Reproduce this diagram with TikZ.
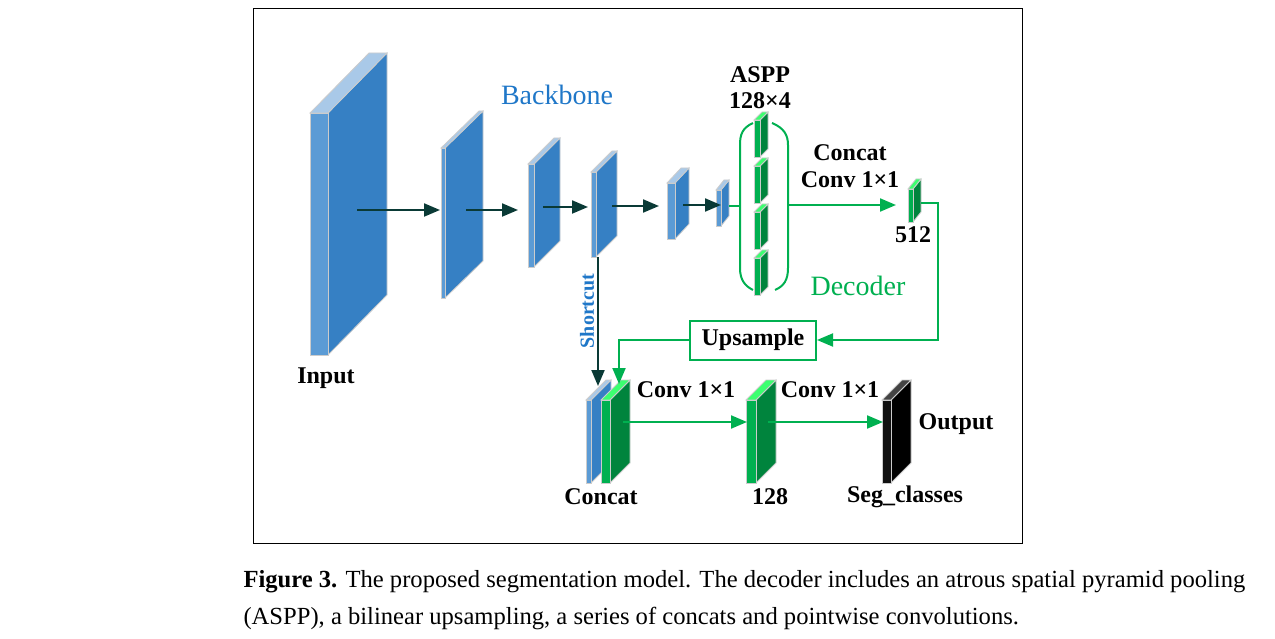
\documentclass[tikz,border=0pt]{standalone}
\usepackage{fontspec}
\setmainfont{Liberation Serif}
\usetikzlibrary{arrows.meta}
\definecolor{bfront}{HTML}{5B9BD5}\definecolor{bface}{HTML}{3680C4}\definecolor{btop}{HTML}{A9C9E8}
\definecolor{gfront}{HTML}{00B050}\definecolor{gface}{HTML}{00843D}\definecolor{gtop}{HTML}{3CFF70}
\definecolor{kfront}{HTML}{111111}\definecolor{kface}{HTML}{000000}\definecolor{ktop}{HTML}{444444}
\definecolor{dk}{HTML}{0A3A36}\definecolor{gl}{HTML}{00B050}\definecolor{bl}{HTML}{1F77C8}
\newcommand\slab[7]{% x ytop t h dx dy colorprefix
 \fill[#7face,draw=gray!40,line width=0.8pt] ({#1+#3},#2)--({#1+#3+#5},{#2-#6})--({#1+#3+#5},{#2-#6+#4})--({#1+#3},{#2+#4})--cycle;
 \fill[#7top,draw=gray!40,line width=0.8pt] (#1,#2)--({#1+#3},#2)--({#1+#3+#5},{#2-#6})--({#1+#5},{#2-#6})--cycle;
 \fill[#7front,draw=gray!40,line width=0.8pt] (#1,#2) rectangle ({#1+#3},{#2+#4});}
\begin{document}
\begin{tikzpicture}[x=1pt,y=-1pt,
 lab/.style={font=\fontsize{24}{26}\selectfont\bfseries},
 da/.style={draw=dk,line width=2pt,-{Triangle[length=16pt,width=13pt]}},
 ga/.style={draw=gl,line width=2pt,-{Triangle[length=16pt,width=13pt]}},
 gline/.style={draw=gl,line width=2pt}]
\useasboundingbox (0,0) rectangle (1275,639);
\draw[line width=0.8pt] (253,8) rectangle (1022,543);
\slab{310}{113}{18}{242}{59}{60}{b}
\slab{441}{148}{4}{150}{38}{37}{b}
\slab{528}{164}{6}{103}{26}{26}{b}
\slab{591}{172}{5}{85}{21}{21}{b}
\slab{667}{183}{8}{56}{14}{15}{b}
\slab{716}{190}{5}{36}{8}{10}{b}
\foreach \yy in {120,166,212,258}{\slab{754}{\yy}{6}{37}{8}{8}{g}}
\slab{908}{189}{5}{33}{8}{10}{g}
\slab{586}{400}{5}{83}{20}{20}{b}
\slab{601}{400}{9}{83}{20}{20}{g}
\slab{746}{400}{10}{83}{20}{20}{g}
\slab{882}{400}{9}{83}{20}{20}{k}
% bracket
\draw[gl,line width=2pt] (753,123) .. controls (742,128) and (740,135) .. (740,145) -- (740,268) .. controls (740,280) and (745,286) .. (753,290);
\draw[gl,line width=2pt] (772,123) .. controls (784,128) and (788,135) .. (788,145) -- (788,268) .. controls (788,280) and (784,286) .. (775,290);
\coordinate (a1) at (357,210); \coordinate (a1e) at (440,210);
\coordinate (a2) at (466,210); \coordinate (a2e) at (518,210);
\coordinate (a3) at (543,207); \coordinate (a3e) at (588,207);
\coordinate (a4) at (612,206); \coordinate (a4e) at (659,206);
\coordinate (a5) at (683,205); \coordinate (a5e) at (721,205);
\draw[da] (a1)--(a1e); \draw[da] (a2)--(a2e); \draw[da] (a3)--(a3e); \draw[da] (a4)--(a4e); \draw[da] (a5)--(a5e);
\coordinate (g1) at (729,206); \coordinate (g1e) at (740,206);
\draw[gline] (g1)--(g1e);
\coordinate (c1) at (788,205); \coordinate (c1e) at (896,205);
\draw[ga] (c1)--(c1e);
\node[draw=gl,line width=2pt,minimum width=126pt,minimum height=39pt,lab,inner sep=0pt] (up) at (753,340) {Upsample};
\coordinate (p5) at (921,203);
\draw[ga] (p5) -| (938,340) -- (up.east);
\coordinate (cin) at (619,384);
\draw[ga] (up.west) -| (cin);
\coordinate (s0) at (598,257); \coordinate (s1) at (598,386);
\draw[da] (s0)--(s1);
\node[rotate=90,text=bl,font=\fontsize{20}{22}\selectfont\bfseries] (sc) at (587,311) {Shortcut};
\coordinate (b1) at (623,422); \coordinate (b1e) at (747,422);
\coordinate (b2) at (768,422); \coordinate (b2e) at (883,422);
\draw[ga] (b1)--(b1e); \draw[ga] (b2)--(b2e);
\node[lab] (t1) at (326,378) {Input};
\node[text=bl,font=\fontsize{28}{30}\selectfont] (t2) at (557,95) {Backbone};
\node[lab] (t3) at (760,75) {ASPP};
\node[lab] (t4) at (760,101) {128×4};
\node[lab] (t5) at (850,153) {Concat};
\node[lab] (t6) at (850,180) {Conv 1×1};
\node[lab] (t7) at (913,235) {512};
\node[text=gl,font=\fontsize{28}{30}\selectfont] (t8) at (858,286) {Decoder};
\node[lab] (t9) at (686,390) {Conv 1×1};
\node[lab] (t10) at (830,390) {Conv 1×1};
\node[lab] (t11) at (956,424) {Output};
\node[lab] (t12) at (905,497) {Seg\_classes};
\node[lab] (t13) at (770,497) {128};
\node[lab] (t14) at (601,497) {Concat};
\node[anchor=west,font=\fontsize{24.6}{26}\selectfont] (cap1) at (240,582) {\textbf{Figure 3.} The proposed segmentation model. The decoder includes an atrous spatial pyramid pooling};
\node[anchor=west,font=\fontsize{24.6}{26}\selectfont] (cap2) at (240,618) {(ASPP), a bilinear upsampling, a series of concats and pointwise convolutions.};
\end{tikzpicture}
\end{document}
